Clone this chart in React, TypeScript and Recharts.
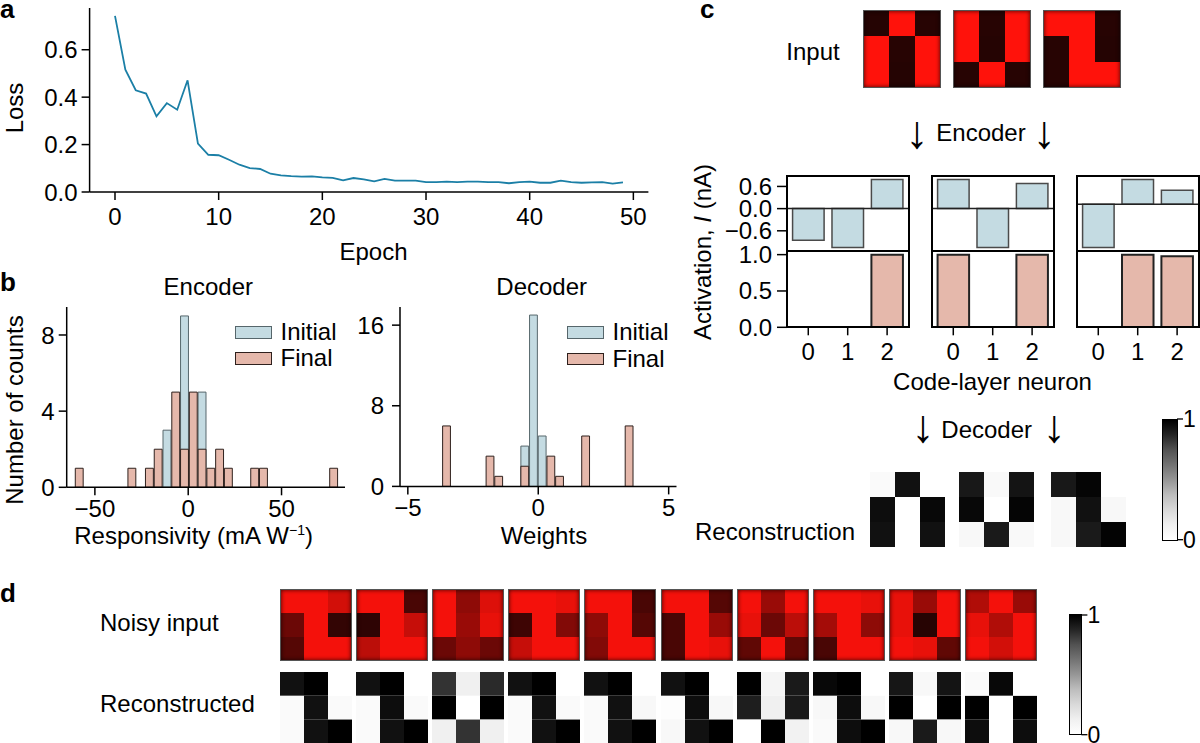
import React from 'react';
import { LineChart, Line, BarChart, Bar, XAxis, YAxis, Cell, ReferenceLine } from 'recharts';

const FONT = '"Liberation Sans", Arial, Helvetica, sans-serif';

// ---------- panel a : training loss ----------
const epochs = [0, 1, 2, 3, 4, 5, 6, 7, 8, 9, 10, 11, 12, 13, 14, 15, 16, 17, 18, 19, 20, 21, 22, 23, 24, 25, 26, 27, 28, 29, 30, 31, 32, 33, 34, 35, 36, 37, 38, 39, 40, 41, 42, 43, 44, 45, 46, 47, 48, 49];
const loss = [0.743, 0.516, 0.429, 0.415, 0.319, 0.375, 0.347, 0.471, 0.204, 0.157, 0.155, 0.136, 0.115, 0.101, 0.097, 0.077, 0.07, 0.067, 0.065, 0.066, 0.062, 0.06, 0.049, 0.059, 0.053, 0.045, 0.055, 0.048, 0.048, 0.048, 0.042, 0.042, 0.044, 0.042, 0.044, 0.044, 0.042, 0.042, 0.037, 0.042, 0.044, 0.039, 0.039, 0.048, 0.042, 0.039, 0.041, 0.042, 0.035, 0.041];
const epochTicks = [0, 10, 20, 30, 40, 50];
const lossTicks = [0, 0.2, 0.4, 0.6];

// ---------- panel b : histograms ----------
const encBinCenters = [-58.15, -53.45, -48.75, -44.05, -39.35, -34.65, -29.95, -25.25, -20.55, -15.85, -11.15, -6.45, -1.75, 2.95, 7.65, 12.35, 17.05, 21.75, 26.45, 31.15, 35.85, 40.55, 45.25, 49.95, 54.65, 59.35, 64.05, 68.75, 73.45, 78.15];
const encInitial = [0, 0, 0, 0, 0, 0, 0, 0, 0, 0, 3, 0, 9, 0, 5, 0, 0, 0, 0, 0, 0, 0, 0, 0, 0, 0, 0, 0, 0, 0];
const encFinal = [1, 0, 0, 0, 0, 0, 1, 0, 1, 2, 0, 5, 2, 5, 2, 1, 2, 1, 0, 0, 1, 1, 0, 0, 0, 0, 0, 0, 0, 1];
const encBinWidth = 4.7;
const encTicksX = [-50, 0, 50];
const encTicksY = [0, 4, 8];

const decBinCenters = [-3.5, -3.167, -2.833, -2.5, -2.167, -1.833, -1.5, -1.167, -0.833, -0.5, -0.167, 0.167, 0.5, 0.833, 1.167, 1.5, 1.833, 2.167, 2.5, 2.833, 3.167, 3.5];
const decInitial = [0, 0, 0, 0, 0, 0, 0, 0, 0, 4, 17, 5, 0, 0, 0, 0, 0, 0, 0, 0, 0, 0];
const decFinal = [6, 0, 0, 0, 0, 3, 1, 0, 0, 2, 0, 0, 3, 1, 0, 0, 5, 0, 0, 0, 0, 6];
const decBinWidth = 0.3333;
const decTicksX = [-5, 0, 5];
const decTicksY = [0, 8, 16];

// ---------- panel c ----------
const codeNeurons = [0, 1, 2];
const initialActivation = [
  [-0.857, -1.054, 0.79],
  [0.79, -1.054, 0.68],
  [-1.37, 0.79, 0.45],
];
const finalActivation = [
  [0, 0, 1.0],
  [1.0, 0, 1.0],
  [0, 1.0, 0.977],
];
const upperTicks = [-0.6, 0, 0.6];
const lowerTicks = [0, 0.5, 1.0];

const inputPatterns = [
  [[0.04, 1, 0.05], [1, 0.05, 1], [1, 0.04, 1]],
  [[1, 0.05, 1], [1, 0.04, 1], [0.05, 1, 0.05]],
  [[1, 1, 0.05], [0.05, 1, 0.04], [0.05, 1, 1]],
];
const reconstructionC = [
  [[0.042, 0.943, 0], [0.956, 0, 0.973], [0.943, 0, 0.943]],
  [[0.919, 0.05, 0.932], [0.973, 0, 0.983], [0.058, 0.912, 0.05]],
  [[0.919, 0.983, 0], [0.058, 0.943, 0.058], [0.058, 0.912, 0.99]],
];

// ---------- panel d ----------
const noisyInputs = [
  [[0.95, 0.95, 0.8], [0.35, 0.95, 0.1], [0.25, 0.95, 0.95]],
  [[0.95, 0.95, 0.2], [0.08, 0.95, 0.75], [0.7, 0.95, 0.95]],
  [[0.95, 0.5, 0.85], [0.95, 0.55, 0.9], [0.35, 0.5, 0.35]],
  [[0.95, 0.95, 0.9], [0.15, 0.95, 0.45], [0.75, 0.95, 0.95]],
  [[0.95, 0.95, 0.2], [0.5, 0.95, 0.25], [0.45, 0.95, 0.95]],
  [[0.95, 0.95, 0.25], [0.2, 0.95, 0.55], [0.2, 0.95, 0.9]],
  [[0.95, 0.55, 0.95], [0.9, 0.35, 0.7], [0.3, 0.95, 0.3]],
  [[0.95, 0.95, 0.9], [0.6, 0.95, 0.5], [0.2, 0.95, 0.95]],
  [[0.9, 0.55, 0.95], [0.9, 0.05, 0.95], [0.95, 0.9, 0.3]],
  [[0.65, 0.95, 0.55], [0.9, 0.65, 0.95], [0.95, 0.8, 0.95]],
];
const reconstructedD = [
  [[0.943, 1.0, 0], [0.042, 0.943, 0.042], [0.042, 0.943, 1.0]],
  [[0.943, 1.0, 0], [0.042, 0.956, 0.042], [0.042, 0.943, 1.0]],
  [[0.836, 0.125, 0.861], [1.0, 0, 1.0], [0.125, 0.836, 0.125]],
  [[0.943, 1.0, 0], [0.042, 0.943, 0.042], [0.042, 0.943, 1.0]],
  [[0.943, 1.0, 0], [0.042, 0.943, 0.058], [0.042, 0.943, 1.0]],
  [[0.943, 1.0, 0], [0.02, 0.956, 0.058], [0.058, 0.943, 1.0]],
  [[1.0, 0.083, 0.912], [0.899, 0.125, 0.912], [0, 1.0, 0.108]],
  [[0.973, 1.0, 0], [0.058, 0.956, 0.058], [0.042, 0.956, 1.0]],
  [[0.926, 0.058, 0.932], [1.0, 0, 1.0], [0.058, 0.912, 0.058]],
  [[0.042, 0.973, 0], [1.0, 0, 1.0], [0.956, 0, 0.956]],
];
const colorbarTicks = [0, 1];
const gridCols = [0, 1, 2];

// ---------- styling helpers ----------
const BLUE = '#c4dbe2';
const BLUE_EDGE = '#56666b';
const PINK = '#e5b8ab';
const PINK_EDGE = '#2e201d';
const LINE_BLUE = '#1b7fa6';
const tickStyle = { fill: '#000', fontSize: 24, fontFamily: FONT };
const axisStroke = { stroke: '#000', strokeWidth: 1.5 };
const GREYS = [255, 240, 217, 189, 150, 115, 82, 37, 0];

const greyOf = (v: number) => {
  const t = Math.max(0, Math.min(1, v)) * 8;
  const i = Math.min(7, Math.floor(t));
  const f = t - i;
  const g = Math.round(GREYS[i] + (GREYS[i + 1] - GREYS[i]) * f);
  return `rgb(${g},${g},${g})`;
};
const redOf = (v: number) =>
  `rgb(${Math.round(28 + 227 * v)},${Math.round(3 + 15 * v)},${Math.round(3 + 8 * v)})`;
const fmt = (d: number) => (v: number) => (v < 0 ? '\u2212' : '') + Math.abs(v).toFixed(d);
const greyGradient =
  'linear-gradient(to bottom, ' +
  GREYS.slice()
    .reverse()
    .map((g, i) => `rgb(${g},${g},${g}) ${(i / 8) * 100}%`)
    .join(', ') +
  ')';

const PAD = 18;
function Frame({ x, y, w, h, yl = 0, yr = 0, xb = 0, children }: any) {
  const width = w + yl + yr + 2 * PAD;
  const height = h + xb + 2 * PAD;
  return (
    <div style={{ position: 'absolute', left: x - yl - PAD, top: y - PAD, width, height }}>
      {children(width, height, { top: PAD, right: PAD, bottom: PAD, left: PAD })}
    </div>
  );
}

function Txt({ x, y, children, size = 24, anchor = 'middle', rotate = 0, bold = false }: any) {
  const tx = anchor === 'middle' ? '-50%' : anchor === 'end' ? '-100%' : '0%';
  return (
    <div
      style={{
        position: 'absolute',
        left: x,
        top: y,
        transform: `translate(${tx}, -50%) rotate(${rotate}deg)`,
        fontSize: size,
        lineHeight: 1,
        whiteSpace: 'nowrap',
        fontWeight: bold ? 700 : 400,
      }}
    >
      {children}
    </div>
  );
}

function BoxBorder({ x, y, w, h, width = 2, background }: any) {
  return (
    <div
      style={{
        position: 'absolute',
        left: x - width / 2,
        top: y - width / 2,
        width: w + width,
        height: h + width,
        border: `${width}px solid #000`,
        boxSizing: 'border-box',
        pointerEvents: 'none',
        background,
      }}
    />
  );
}

// ---------- charts ----------
function LossChart() {
  const data = epochs.map((e, i) => ({ epoch: e, loss: loss[i] }));
  return (
    <Frame x={89.6} y={8.3} w={558.8} h={184} yl={89.6} xb={70}>
      {(W: number, H: number, m: any) => (
        <LineChart width={W} height={H} data={data} margin={m}>
          <XAxis dataKey="epoch" type="number" domain={[-2.45, 51.45]} ticks={epochTicks} interval={0}
            allowDataOverflow height={70} tick={tickStyle} tickLine={axisStroke} axisLine={axisStroke}
            tickSize={8} tickMargin={8} />
          <YAxis type="number" domain={[0, 0.776]} ticks={lossTicks} interval={0} allowDataOverflow
            width={89.6} tick={tickStyle} tickLine={axisStroke} axisLine={axisStroke} tickSize={8}
            tickMargin={4} tickFormatter={fmt(1)} />
          <Line dataKey="loss" stroke={LINE_BLUE} strokeWidth={1.8} dot={false} isAnimationActive={false} />
        </LineChart>
      )}
    </Frame>
  );
}

function Histogram({ plot, centers, initial, final, binWidth, xDomain, xTicks, yDomain, yTicks, yl, yTickMargin }: any) {
  const data = centers.map((c: number, i: number) => ({ x: c, initial: initial[i], final: final[i] }));
  const barPx = (binWidth * plot.w) / (xDomain[1] - xDomain[0]);
  return (
    <Frame x={plot.x} y={plot.y} w={plot.w} h={plot.h} yl={yl} xb={50}>
      {(W: number, H: number, m: any) => (
        <BarChart width={W} height={H} data={data} margin={m} barGap={0} barCategoryGap={0}>
          <XAxis xAxisId="init" dataKey="x" type="number" domain={xDomain} allowDataOverflow hide />
          <XAxis xAxisId="fin" dataKey="x" type="number" domain={xDomain} allowDataOverflow ticks={xTicks}
            interval={0} height={50} tick={tickStyle} tickLine={axisStroke} axisLine={axisStroke}
            tickSize={8} tickMargin={5} tickFormatter={fmt(0)} />
          <YAxis type="number" domain={yDomain} ticks={yTicks} interval={0} allowDataOverflow width={yl}
            tick={tickStyle} tickLine={axisStroke} axisLine={axisStroke} tickSize={8} tickMargin={yTickMargin} />
          <Bar xAxisId="init" dataKey="initial" fill={BLUE} stroke={BLUE_EDGE} strokeWidth={1}
            barSize={barPx} isAnimationActive={false} />
          <Bar xAxisId="fin" dataKey="final" fill={PINK} stroke={PINK_EDGE} strokeWidth={1}
            barSize={barPx} isAnimationActive={false} />
        </BarChart>
      )}
    </Frame>
  );
}

function HistLegend({ x, y1, y2 }: any) {
  const rect = (y: number, fill: string, edge: string) => (
    <div style={{ position: 'absolute', left: x, top: y - 6.3, width: 37, height: 12.6, background: fill,
      border: `1px solid ${edge}`, boxSizing: 'border-box' }} />
  );
  return (
    <>
      {rect(y1, BLUE, BLUE_EDGE)}
      {rect(y2, PINK, PINK_EDGE)}
      <Txt x={x + 45.5} y={y1} anchor="start">Initial</Txt>
      <Txt x={x + 45.5} y={y2} anchor="start">Final</Txt>
    </>
  );
}

const C_X0 = 787.3;
const C_STEP = 145;
const C_W = 121.4;
const UP = { y: 175.7, h: 75 };
const LO = { y: 251, h: 76.3 };
const C_XDOMAIN = [-0.54, 2.54];

function ActivationPanel({ k }: any) {
  const x = C_X0 + C_STEP * k;
  const showY = k === 0;
  const yl = showY ? 90 : 0;
  const vals = initialActivation[k];
  const mn = Math.min(...vals);
  const mx = Math.max(...vals);
  const r = mx - mn;
  const upDomain = [mn - 0.05 * r, mx + 0.05 * r];
  const barPx = (0.8 * C_W) / (C_XDOMAIN[1] - C_XDOMAIN[0]);
  const up = codeNeurons.map((n, i) => ({ neuron: n, current: initialActivation[k][i] }));
  const lo = codeNeurons.map((n, i) => ({ neuron: n, current: finalActivation[k][i] }));
  return (
    <>
      <Frame x={x} y={UP.y} w={C_W} h={UP.h} yl={yl}>
        {(W: number, H: number, m: any) => (
          <BarChart width={W} height={H} data={up} margin={m}>
            <XAxis dataKey="neuron" type="number" domain={C_XDOMAIN} allowDataOverflow hide />
            <YAxis type="number" domain={upDomain} ticks={upperTicks} interval={0} allowDataOverflow
              hide={!showY} width={yl} tick={tickStyle} tickLine={axisStroke} axisLine={false}
              tickSize={10} tickMargin={5} tickFormatter={fmt(1)} />
            <ReferenceLine y={0} stroke="#222" strokeWidth={1.5} />
            <Bar dataKey="current" fill={BLUE} stroke="#4a4a4a" strokeWidth={1.5} barSize={barPx}
              isAnimationActive={false} />
          </BarChart>
        )}
      </Frame>
      <Frame x={x} y={LO.y} w={C_W} h={LO.h} yl={yl} xb={50}>
        {(W: number, H: number, m: any) => (
          <BarChart width={W} height={H} data={lo} margin={m}>
            <XAxis dataKey="neuron" type="number" domain={C_XDOMAIN} allowDataOverflow ticks={codeNeurons}
              interval={0} height={50} tick={tickStyle} tickLine={axisStroke} axisLine={false}
              tickSize={8} tickMargin={8} />
            <YAxis type="number" domain={[0, 1.05]} ticks={lowerTicks} interval={0} allowDataOverflow
              hide={!showY} width={yl} tick={tickStyle} tickLine={axisStroke} axisLine={false}
              tickSize={10} tickMargin={5} tickFormatter={fmt(1)} />
            <Bar dataKey="current" fill={PINK} stroke="#222" strokeWidth={2} barSize={barPx}
              isAnimationActive={false} />
          </BarChart>
        )}
      </Frame>
      <BoxBorder x={x} y={UP.y} w={C_W} h={UP.h} />
      <BoxBorder x={x} y={LO.y} w={C_W} h={LO.h} />
    </>
  );
}

function CellGrid({ x, y, w, h, rows, colorOf, framed }: any) {
  const data = gridCols.map((c) => ({ col: c, bottomRow: 1, middleRow: 1, topRow: 1 }));
  const layers = [
    { key: 'bottomRow', row: 2 },
    { key: 'middleRow', row: 1 },
    { key: 'topRow', row: 0 },
  ];
  return (
    <div style={{ position: 'absolute', left: x, top: y, width: w, height: h }}>
      <BarChart width={w} height={h} data={data} margin={{ top: 0, right: 0, bottom: 0, left: 0 }}
        barCategoryGap={0} barGap={0}>
        <XAxis dataKey="col" type="category" hide />
        <YAxis type="number" domain={[0, 3]} allowDataOverflow hide />
        {layers.map((L) => (
          <Bar key={L.key} dataKey={L.key} stackId="grid" isAnimationActive={false}>
            {gridCols.map((c) => (
              <Cell key={c} fill={colorOf(rows[L.row][c])} />
            ))}
          </Bar>
        ))}
      </BarChart>
      {framed && (
        <div style={{ position: 'absolute', left: 0, top: 0, right: 0, bottom: 0, border: '1px solid #555',
          boxShadow: 'inset 0 0 4px rgba(0,0,0,0.75)', pointerEvents: 'none' }} />
      )}
    </div>
  );
}

function Colorbar({ x, y, w, h }: any) {
  return (
    <>
      <BoxBorder x={x} y={y} w={w} h={h} width={1.3} background={greyGradient} />
      <Frame x={x} y={y} w={w} h={h} yr={30}>
        {(W: number, H: number, m: any) => (
          <BarChart width={W} height={H} data={[{ name: 'scale', level: 1 }]} margin={m}>
            <XAxis dataKey="name" type="category" hide />
            <YAxis orientation="right" type="number" domain={[0, 1]} ticks={colorbarTicks} interval={0}
              allowDataOverflow width={30} tick={{ ...tickStyle, fontSize: 23 }}
              tickLine={{ stroke: '#000', strokeWidth: 1.3 }} axisLine={false} tickSize={6} tickMargin={0} />
          </BarChart>
        )}
      </Frame>
    </>
  );
}

const IN_X0 = 862.7;
const IN_STEP = 90;
const RECON_C_X = [870, 959, 1051];
const D_X0 = 280;
const D_STEP = 76.1;
const ARROW = 46;

export default function App() {
  return (
    <div style={{ position: 'absolute', left: 0, top: 0, width: 1200, height: 743, overflow: 'hidden',
      background: '#fff', fontFamily: FONT, color: '#000' }}>
      {/* panel a */}
      <LossChart />
      <Txt x={0} y={9} anchor="start" size={26} bold>a</Txt>
      <Txt x={15} y={107.5} rotate={-90}>Loss</Txt>
      <Txt x={373.5} y={252}>Epoch</Txt>

      {/* panel b */}
      <Histogram plot={{ x: 66.7, y: 307, w: 278.3, h: 180.3 }} centers={encBinCenters} initial={encInitial}
        final={encFinal} binWidth={encBinWidth} xDomain={[-65.1, 84]} xTicks={encTicksX} yDomain={[0, 9.47]}
        yTicks={encTicksY} yl={66.7} yTickMargin={4} />
      <Histogram plot={{ x: 400, y: 307.3, w: 276.5, h: 179.4 }} centers={decBinCenters} initial={decInitial}
        final={decFinal} binWidth={decBinWidth} xDomain={[-5.3, 5.3]} xTicks={decTicksX} yDomain={[0, 17.8]}
        yTicks={decTicksY} yl={62} yTickMargin={8} />
      <HistLegend x={235} y1={332.3} y2={358.3} />
      <HistLegend x={567} y1={332.3} y2={359} />
      <Txt x={0} y={282} anchor="start" size={26} bold>b</Txt>
      <Txt x={208.3} y={286.7}>Encoder</Txt>
      <Txt x={541.7} y={286.7}>Decoder</Txt>
      <Txt x={15} y={410} rotate={-90}>Number of counts</Txt>
      <Txt x={193.6} y={536}>
        Responsivity (mA W<sup style={{ fontSize: 14, lineHeight: 0, verticalAlign: 'super' }}>{'\u22121'}</sup>)
      </Txt>
      <Txt x={544} y={536}>Weights</Txt>

      {/* panel c */}
      <Txt x={700} y={9} anchor="start" size={26} bold>c</Txt>
      <Txt x={813} y={52}>Input</Txt>
      {inputPatterns.map((p, i) => (
        <CellGrid key={i} x={IN_X0 + IN_STEP * i} y={10} w={78} h={78} rows={p} colorOf={redOf} framed />
      ))}
      <Txt x={916.7} y={132} size={ARROW}>{'\u2193'}</Txt>
      <Txt x={981} y={133.3}>Encoder</Txt>
      <Txt x={1044} y={132} size={ARROW}>{'\u2193'}</Txt>
      {codeNeurons.map((k) => (
        <ActivationPanel key={k} k={k} />
      ))}
      <Txt x={703} y={251.5} rotate={-90}>
        Activation, <span style={{ fontStyle: 'italic' }}>I</span> (nA)
      </Txt>
      <Txt x={992.5} y={381.7}>Code-layer neuron</Txt>
      <Txt x={922.8} y={426} size={ARROW}>{'\u2193'}</Txt>
      <Txt x={986.7} y={429.5}>Decoder</Txt>
      <Txt x={1054} y={426} size={ARROW}>{'\u2193'}</Txt>
      {reconstructionC.map((p, i) => (
        <CellGrid key={i} x={RECON_C_X[i]} y={471.7} w={75} h={75} rows={p} colorOf={greyOf} />
      ))}
      <Txt x={775} y={531.7}>Reconstruction</Txt>
      <Colorbar x={1163} y={419.3} w={14} h={120.7} />

      {/* panel d */}
      <Txt x={0} y={593} anchor="start" size={26} bold>d</Txt>
      <Txt x={100} y={623.3} anchor="start">Noisy input</Txt>
      <Txt x={100} y={704} anchor="start">Reconstructed</Txt>
      {noisyInputs.map((p, i) => (
        <CellGrid key={i} x={D_X0 + D_STEP * i} y={589.3} w={72} h={72} rows={p} colorOf={redOf} framed />
      ))}
      {reconstructedD.map((p, i) => (
        <CellGrid key={i} x={D_X0 + D_STEP * i} y={671.7} w={72} h={71} rows={p} colorOf={greyOf} />
      ))}
      <Colorbar x={1069.3} y={615} w={12.4} h={119.7} />
    </div>
  );
}
